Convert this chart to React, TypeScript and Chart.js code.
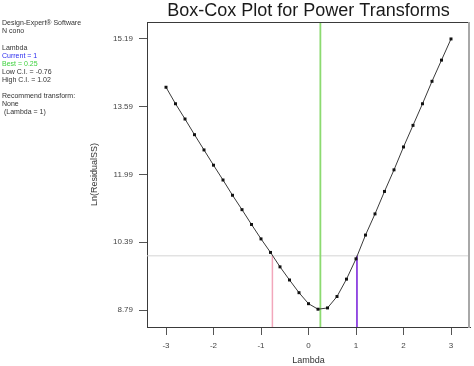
import React, { useEffect, useRef } from "react";
import { Chart, registerables } from "chart.js";

Chart.register(...registerables);

// ---- data ----
const lambdas = [
  -3.0, -2.8, -2.6, -2.4, -2.2, -2.0, -1.8, -1.6, -1.4, -1.2, -1.0, -0.8, -0.6, -0.4, -0.2,
  0.0, 0.2, 0.4, 0.6, 0.8, 1.0, 1.2, 1.4, 1.6, 1.8, 2.0, 2.2, 2.4, 2.6, 2.8, 3.0,
];
const lnResidualSS = [
  14.05, 13.66, 13.3, 12.93, 12.57, 12.21, 11.86, 11.5, 11.16, 10.81, 10.47, 10.15, 9.81, 9.5, 9.2,
  8.94, 8.81, 8.84, 9.11, 9.52, 10.0, 10.56, 11.06, 11.59, 12.1, 12.64, 13.15, 13.66, 14.19, 14.69, 15.19,
];
const xTicks = [-3, -2, -1, 0, 1, 2, 3];
const yTicks = [8.79, 10.39, 11.99, 13.59, 15.19];
const xRange = [-3.4, 3.4];
const yRange = [8.39, 15.59];
const currentLambda = 1;
const bestLambda = 0.25;
const lowCI = -0.76;
const highCI = 1.02;
const ciThreshold = 10.07;

const infoLines = [
  { text: "Design-Expert\u00AE Software", color: "#333333" },
  { text: "N cono", color: "#333333" },
  { text: "", color: "#333333" },
  { text: "Lambda", color: "#333333" },
  { text: "Current = " + currentLambda, color: "#2b2bef" },
  { text: "Best = " + bestLambda, color: "#3fd23f" },
  { text: "Low C.I. = " + lowCI, color: "#333333" },
  { text: "High C.I. = " + highCI, color: "#333333" },
  { text: "", color: "#333333" },
  { text: "Recommend transform:", color: "#333333" },
  { text: "None", color: "#333333" },
  { text: " (Lambda = " + currentLambda + ")", color: "#333333" },
];

const FONT = "'Liberation Sans', Arial, sans-serif";

const textPlugin = {
  id: "textPlugin",
  afterDraw(chart: any) {
    const ctx = chart.ctx as CanvasRenderingContext2D;
    const a = chart.chartArea;
    ctx.save();
    // frame top and right
    ctx.strokeStyle = "#3a3a3a";
    ctx.lineWidth = 1;
    ctx.beginPath();
    ctx.moveTo(a.left, a.top + 0.5);
    ctx.lineTo(a.right, a.top + 0.5);
    ctx.stroke();
    ctx.strokeStyle = "#a8a8a8";
    ctx.lineWidth = 2;
    ctx.beginPath();
    ctx.moveTo(a.right - 1, a.top);
    ctx.lineTo(a.right - 1, a.bottom + 1);
    ctx.stroke();

    // title
    ctx.fillStyle = "#1a1a1a";
    ctx.font = "18px " + FONT;
    ctx.textAlign = "center";
    ctx.textBaseline = "alphabetic";
    ctx.fillText("Box-Cox Plot for Power Transforms", (a.left + a.right) / 2, 16);

    // x axis title
    ctx.fillStyle = "#333333";
    ctx.font = "9px " + FONT;
    ctx.textBaseline = "middle";
    ctx.fillText("Lambda", (a.left + a.right) / 2, 361);

    // y axis title
    ctx.save();
    ctx.translate(95, (a.top + a.bottom) / 2);
    ctx.rotate(-Math.PI / 2);
    ctx.fillText("Ln(ResidualSS)", 0, 0);
    ctx.restore();

    // info text
    ctx.font = "7px " + FONT;
    ctx.textAlign = "left";
    ctx.textBaseline = "middle";
    infoLines.forEach((l, i) => {
      if (!l.text) return;
      ctx.fillStyle = l.color;
      ctx.fillText(l.text, 2, 23.5 + i * 8.05);
    });
    ctx.restore();
  },
};

export default function App() {
  const ref = useRef<HTMLCanvasElement | null>(null);

  useEffect(() => {
    if (!ref.current) return;
    const curve = lambdas.map((x, i) => ({ x, y: lnResidualSS[i] }));
    const chart = new Chart(ref.current, {
      type: "scatter",
      data: {
        datasets: [
          {
            data: curve,
            showLine: true,
            borderColor: "#3a3a3a",
            borderWidth: 1,
            pointStyle: "rect",
            pointRadius: 2.1,
            pointBackgroundColor: "#111111",
            pointBorderWidth: 0,
          },
          {
            data: [
              { x: bestLambda, y: yRange[0] },
              { x: bestLambda, y: yRange[1] },
            ],
            showLine: true,
            borderColor: "#8cda70",
            borderWidth: 1.8,
            pointRadius: 0,
          },
          {
            data: [
              { x: lowCI, y: yRange[0] },
              { x: lowCI, y: ciThreshold },
            ],
            showLine: true,
            borderColor: "#f2a7bb",
            borderWidth: 1.5,
            pointRadius: 0,
          },
          {
            data: [
              { x: highCI, y: yRange[0] },
              { x: highCI, y: ciThreshold },
            ],
            showLine: true,
            borderColor: "#8c3fe0",
            borderWidth: 1.8,
            pointRadius: 0,
          },
          {
            data: [
              { x: xRange[0], y: ciThreshold },
              { x: xRange[1], y: ciThreshold },
            ],
            showLine: true,
            borderColor: "#d4d4d4",
            borderWidth: 1,
            pointRadius: 0,
          },
        ],
      },
      options: {
        responsive: false,
        animation: false,
        layout: { padding: { top: 22, left: 0, right: 2, bottom: 0 } },
        plugins: {
          legend: { display: false },
          tooltip: { enabled: false },
          title: { display: false },
        },
        scales: {
          x: {
            type: "linear",
            min: xRange[0],
            max: xRange[1],
            afterBuildTicks: (s: any) => {
              s.ticks = xTicks.map((v) => ({ value: v }));
            },
            afterFit: (s: any) => {
              s.height = 39;
            },
            ticks: {
              color: "#444444",
              font: { family: FONT, size: 8 },
              padding: 6,
              maxRotation: 0,
              callback: (v: any) => String(v),
            },
            grid: {
              drawOnChartArea: false,
              drawTicks: true,
              tickLength: 8,
              color: "#555555",
            },
            border: { display: true, color: "#3a3a3a", width: 1 },
          },
          y: {
            type: "linear",
            min: yRange[0],
            max: yRange[1],
            afterBuildTicks: (s: any) => {
              s.ticks = yTicks.map((v) => ({ value: v }));
            },
            afterFit: (s: any) => {
              s.width = 147;
            },
            ticks: {
              color: "#444444",
              font: { family: FONT, size: 8 },
              padding: 6,
              callback: (v: any) => Number(v).toFixed(2),
            },
            grid: {
              drawOnChartArea: false,
              drawTicks: true,
              tickLength: 8,
              color: "#555555",
            },
            border: { display: true, color: "#3a3a3a", width: 1 },
          },
        },
      },
      plugins: [textPlugin],
    });
    return () => chart.destroy();
  }, []);

  return (
    <div style={{ position: "fixed", left: 0, top: 0, width: 474, height: 366, background: "#ffffff" }}>
      <canvas ref={ref} width={474} height={366} style={{ display: "block", width: 474, height: 366 }} />
    </div>
  );
}
